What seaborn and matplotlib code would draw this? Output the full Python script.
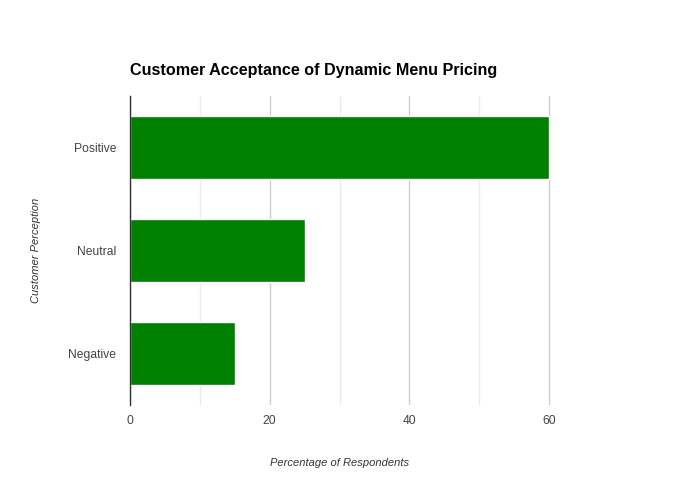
import matplotlib
matplotlib.use("Agg")
import matplotlib.pyplot as plt
import seaborn as sns
import pandas as pd

categories = ["Positive", "Neutral", "Negative"]
values = [60, 25, 15]
major_ticks = [0, 20, 40, 60]
minor_ticks = [10, 30, 50]

sns.set_style("white")
plt.rcParams['font.family'] = ['Liberation Sans', 'DejaVu Sans']

df = pd.DataFrame({"Customer Perception": categories, "Percentage of Respondents": values})

fig = plt.figure(figsize=(6.8, 5.0), dpi=100)
ax = fig.add_axes([130/680, 1-405/500, 489/680, 309/500])
sns.barplot(data=df, y="Customer Perception", x="Percentage of Respondents",
            orient="h", color="#008000", saturation=1, width=0.62, ax=ax)
ax.set_xlim(0, 70)
ax.set_ylim(2.5, -0.5)
ax.set_xticks(major_ticks)
ax.set_xticks(minor_ticks, minor=True)
ax.grid(axis="x", which="major", color="#cccccc", linewidth=1)
ax.grid(axis="x", which="minor", color="#ebebeb", linewidth=1)
ax.set_axisbelow(True)
for s in ["top", "right", "bottom"]:
    ax.spines[s].set_visible(False)
ax.spines["left"].set_color("#333333")
ax.spines["left"].set_linewidth(1)
ax.tick_params(axis="both", which="both", length=0, labelsize=8.7, colors="#444444")
ax.tick_params(axis="y", pad=10)
ax.tick_params(axis="x", pad=7)
ax.set_xlabel("Percentage of Respondents", fontsize=8, style="italic", color="#333333")
ax.xaxis.set_label_coords((340-130)/489, -(458-405)/309)
ax.set_ylabel("Customer Perception", fontsize=8, style="italic", color="#333333")
ax.yaxis.set_label_coords(-(130-41)/489, 0.5)
ax.set_title("Customer Acceptance of Dynamic Menu Pricing", fontsize=11.6, fontweight="bold",
             loc="left", x=0, y=1.0, pad=15, color="#000000")
fig.savefig("out.png", dpi=100)
